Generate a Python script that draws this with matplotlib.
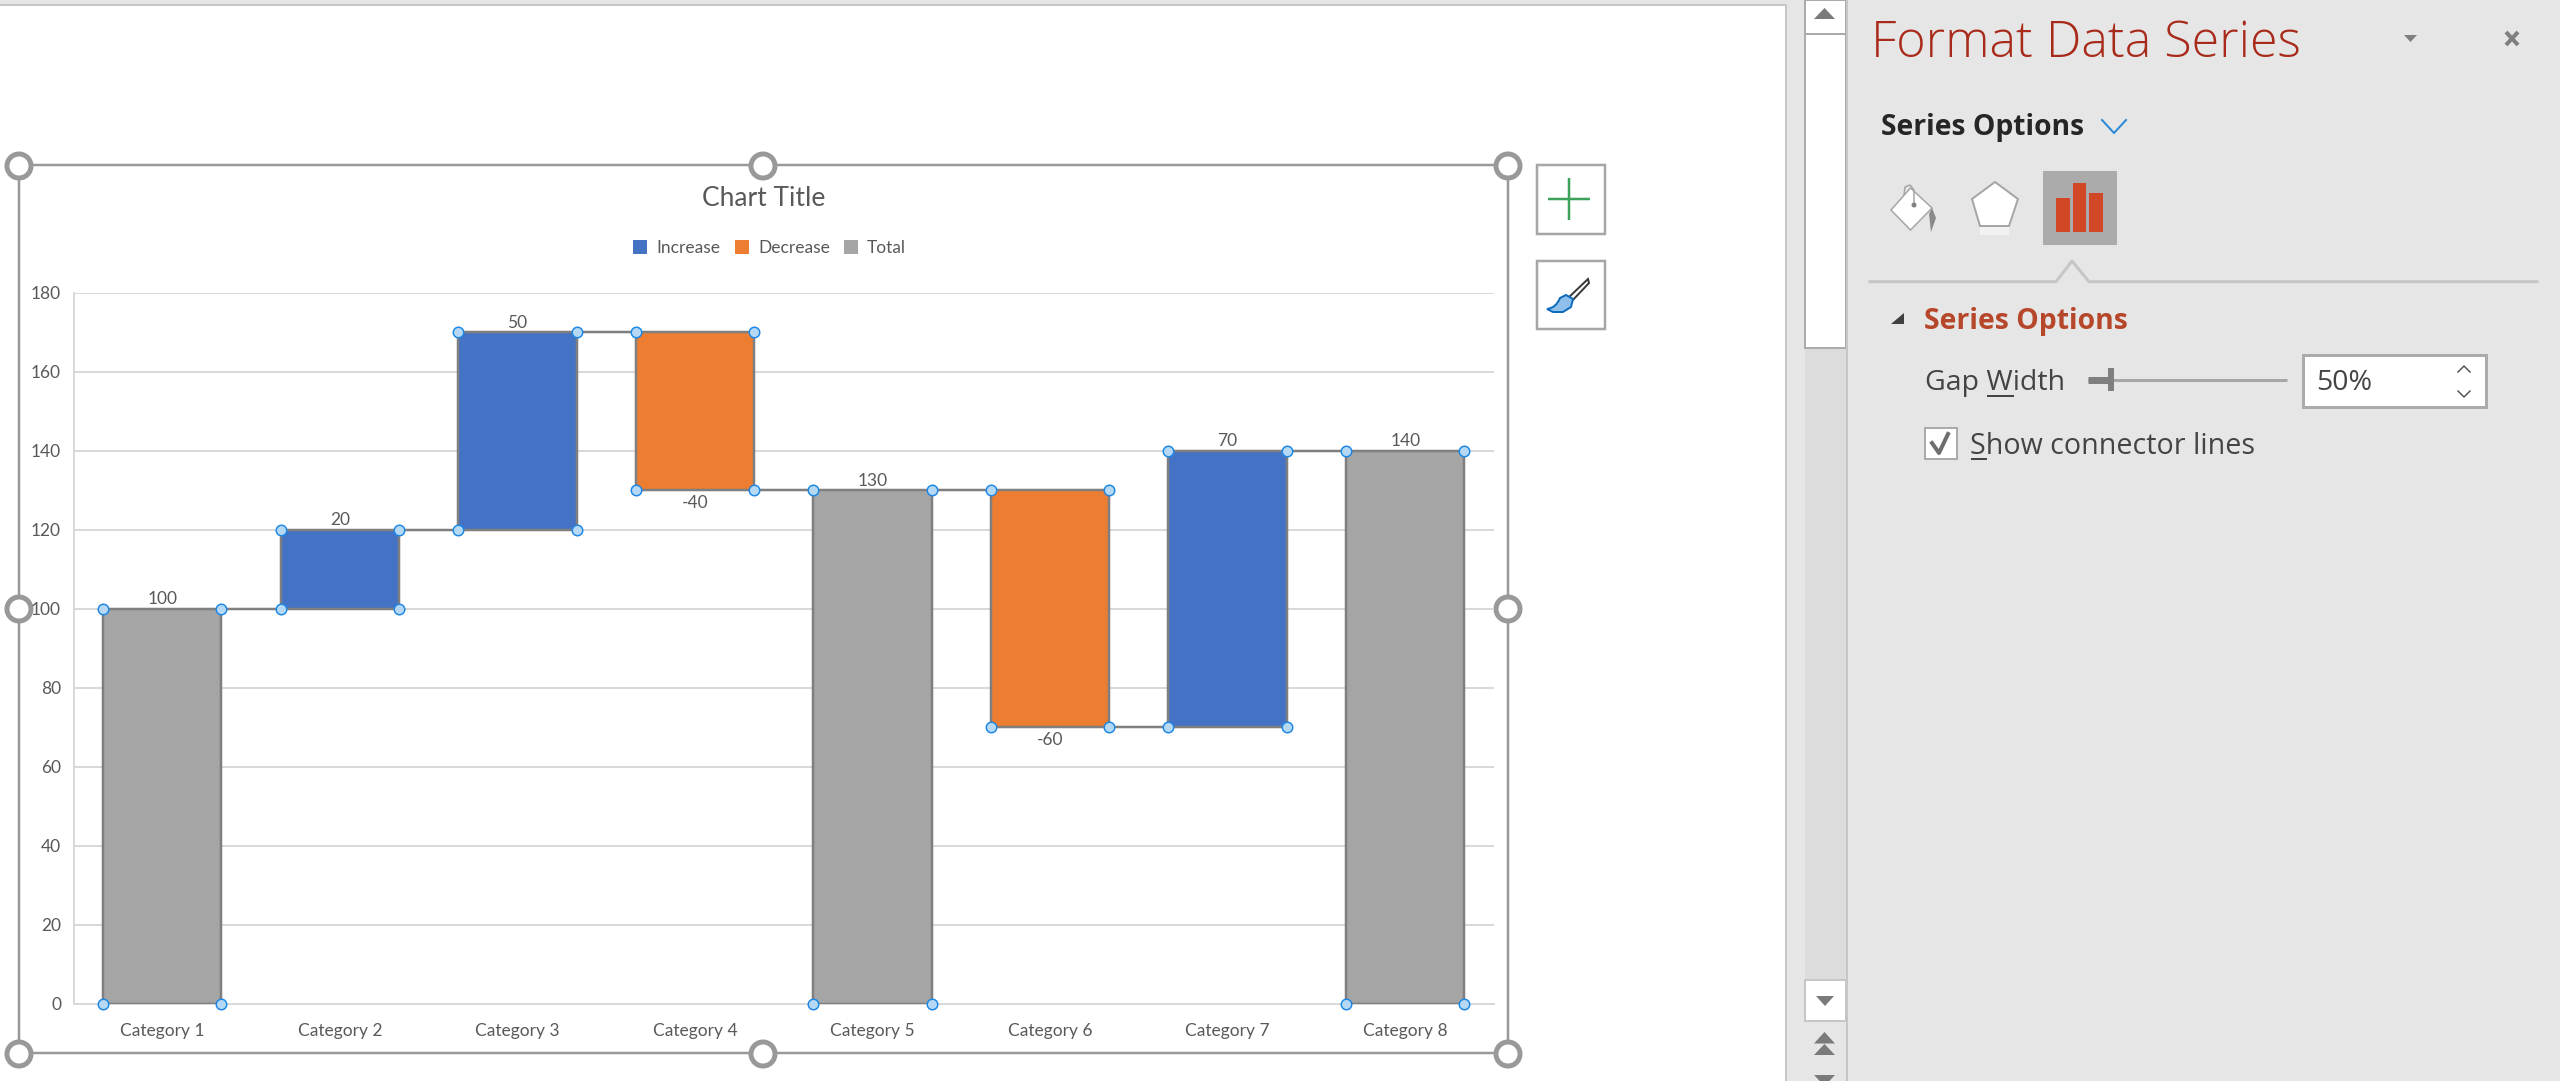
import numpy as np
import matplotlib
matplotlib.use('Agg')
import matplotlib.pyplot as plt
from matplotlib.patches import Rectangle, Circle, Polygon, PathPatch
from matplotlib.path import Path

categories = ['Category 1', 'Category 2', 'Category 3', 'Category 4',
              'Category 5', 'Category 6', 'Category 7', 'Category 8']
values = [100, 20, 50, -40, 130, -60, 70, 140]
is_total = [True, False, False, False, True, False, False, True]
y_ticks = [0, 20, 40, 60, 80, 100, 120, 140, 160, 180]
legend_names = ['Increase', 'Decrease', 'Total']

BLUE = '#4472c4'
ORANGE = '#ed7d31'
GRAY = '#a5a5a5'
EDGE = '#7f7f7f'
TEXT = '#595959'
PANEL = '#e6e6e6'
RED = '#b7472a'

W, H = 2560, 1081
PX = 72 / 100  # one pixel in points at dpi 100
CHART_FONT = 'Lato'
UI_FONT = 'Open Sans'

fig = plt.figure(figsize=(W / 100, H / 100), dpi=100, facecolor='white')

# pixel-space layer for the PowerPoint window around the chart
ui = fig.add_axes([0, 0, 1, 1], zorder=0)
ui.set_xlim(0, W)
ui.set_ylim(H, 0)
ui.axis('off')


def rect(x0, y0, x1, y1, fc='none', ec='none', lw=0, z=1):
    ui.add_patch(Rectangle((x0, y0), x1 - x0, y1 - y0, fc=fc, ec=ec, lw=lw * PX, zorder=z))


def line(xs, ys, color, lw, z=2):
    ui.plot(xs, ys, color=color, lw=lw * PX, zorder=z, solid_capstyle='butt')


def tri(points, color='#7a7a7a', z=3):
    ui.add_patch(Polygon(points, closed=True, fc=color, ec='none', zorder=z))


def label(x, y, s, size, color='#444444', weight='normal', ha='left'):
    ui.text(x, y, s, fontsize=size, color=color, fontweight=weight, ha=ha, va='center',
            family=UI_FONT, zorder=5)


# backgrounds
rect(0, 0, W, 4.5, fc=PANEL, z=0)
rect(1786, 0, W, H, fc=PANEL, z=0)
line([0, 1786, 1786], [4.5, 4.5, H], '#c6c6c6', 2)

# scrollbar
rect(1805, 0, 1846, H, fc=PANEL, z=1)
rect(1805, 0, 1846, 980, fc='#dcdcdc', z=1)
rect(1805, 0, 1845.5, 33.5, fc='white', ec='#ababab', lw=2, z=2)
rect(1805, 33.5, 1845.5, 348, fc='white', ec='#ababab', lw=2, z=2)
rect(1805, 980, 1845.5, 1020.5, fc='white', ec='#c6c6c6', lw=2, z=2)
line([1847, 1847], [0, H], '#c6c6c6', 2)
tri([(1814, 19), (1835, 19), (1824.5, 8)])
tri([(1816, 996), (1834, 996), (1825, 1006)])
tri([(1814, 1043.5), (1835, 1043.5), (1824.5, 1032)])
tri([(1814, 1055), (1835, 1055), (1824.5, 1044)])
tri([(1814, 1075), (1835, 1075), (1824.5, 1086)])

# chart selection frame and handles
fx0, fy0, fx1, fy1 = 19, 165, 1508, 1053
rect(fx0, fy0, fx1, fy1, ec='#999999', lw=2.5, z=1)
fxm, fym = (fx0 + fx1) / 2 - 0.5, (fy0 + fy1) / 2
for hx in (fx0, fxm, fx1):
    for hy in (fy0 + 1, fym, fy1 + 1):
        if hx == fxm and hy == fym:
            continue
        ui.add_patch(Circle((hx, hy), 12, fc='white', ec='#999999', lw=5 * PX, zorder=2))

# side buttons
rect(1537, 165, 1605, 234, fc='white', ec='#a6a6a6', lw=2.5)
line([1548, 1590], [198.7, 198.7], '#3da35a', 2.5)
line([1568.7, 1568.7], [178, 220], '#3da35a', 2.5)
rect(1537, 261, 1605, 329, fc='white', ec='#a6a6a6', lw=2.5)
ui.add_patch(Polygon([(1588, 279), (1567, 299), (1571, 302), (1589, 283)], closed=True,
                     fc='white', ec='#3b3b3b', lw=2 * PX, zorder=3))
brush = Path([(1547, 309), (1556, 308), (1560, 298), (1566, 295), (1573, 299), (1571, 307),
              (1563, 312), (1553, 312), (1547, 309)],
             [Path.MOVETO, Path.CURVE3, Path.CURVE3, Path.LINETO, Path.LINETO, Path.LINETO,
              Path.LINETO, Path.LINETO, Path.CLOSEPOLY])
ui.add_patch(PathPatch(brush, fc='#8fc0ec', ec='#0f6cbd', lw=2 * PX, zorder=4))

# task pane header
label(1871, 44, 'Format Data Series', 36.2, color='#a82a1a', weight='light')
tri([(2404, 35), (2417, 35), (2410.5, 42)], color='#7f7f7f')
line([2506, 2518], [32, 45], '#7f7f7f', 4)
line([2518, 2506], [32, 45], '#7f7f7f', 4)
label(1881, 128, 'Series Options', 20.3, color='#262626', weight='bold')
ui.plot([2102, 2114, 2126], [120, 133, 120], color='#2b88d8', lw=2 * PX, zorder=3)

# tab icons
ui.add_patch(Polygon([(1891, 210), (1910.5, 188), (1932, 208), (1910.5, 230)], closed=True,
                     fc='white', ec='#a6a6a6', lw=1.5 * PX, zorder=3))
ui.plot([1904, 1905, 1910, 1914, 1914], [195, 187, 185, 190, 205], color='#a6a6a6', lw=1.5 * PX, zorder=3)
ui.add_patch(Circle((1914, 205), 2.5, fc='#808080', zorder=4))
tri([(1932, 208), (1936, 218), (1931, 232), (1929, 214)], color='#8a8a8a')
ui.add_patch(Polygon([(1995, 182), (2018, 199), (2009, 226), (1980, 226), (1972, 199)], closed=True,
                     fc='white', ec='#a6a6a6', lw=2 * PX, zorder=3))
rect(1980, 227, 2009, 235, fc='#f2f2f2', z=3)
rect(2043, 171, 2117, 245, fc='#ababab', z=2)
rect(2056, 198, 2069.5, 232, fc='#d24726', z=3)
rect(2072.5, 183, 2086, 232, fc='#d24726', z=3)
rect(2089, 193, 2102.5, 232, fc='#d24726', z=3)

# tab separator with notch
ui.plot([1870, 2056, 2072, 2089, 2537], [281.7, 281.7, 261, 281.7, 281.7], color='#c6c6c6', lw=3 * PX, zorder=2)

# series options section
tri([(1904, 313), (1904, 324), (1891, 324)], color='#404040')
label(1924, 322, 'Series Options', 20.4, color=RED, weight='bold')
label(1925, 383, 'Gap Width', 20.5, color='#444444')
line([1986.5, 2014], [396, 396], '#444444', 2)
line([2088, 2287], [380, 380], '#a6a6a6', 3)
line([2088, 2110], [380, 380], '#7f7f7f', 7)
line([2111, 2111], [368, 391], '#7f7f7f', 6)
rect(2303, 355, 2486, 406.5, fc='white', ec='#ababab', lw=3, z=2)
label(2316, 383, '50%', 20.5, color='#444444')
ui.plot([2458, 2464, 2470], [372, 366, 372], color='#555555', lw=1.5 * PX, zorder=3)
ui.plot([2458, 2464, 2470], [391, 397, 391], color='#555555', lw=1.5 * PX, zorder=3)
rect(1925, 428, 1956.5, 459, fc='white', ec='#ababab', lw=2, z=2)
ui.plot([1932, 1939, 1948], [443, 453, 434], color='#6e6e6e', lw=4 * PX, zorder=3)
label(1970, 447, 'Show connector lines', 20.6, color='#444444')
line([1970.5, 1986.5], [459, 459], '#444444', 2)

# chart title and legend
ui.text(764, 198, 'Chart Title', fontsize=19, color=TEXT, ha='center', va='center',
        family=CHART_FONT, zorder=5)
legend_colors = [BLUE, ORANGE, GRAY]
legend_swatch = [633, 735, 844]
for name, col, sx in zip(legend_names, legend_colors, legend_swatch):
    rect(sx, 240, sx + 14, 254, fc=col, z=3)
    ui.text(sx + 23, 248, name, fontsize=12.5, color=TEXT, va='center', family=CHART_FONT, zorder=5)

# waterfall plot
ax = fig.add_axes([73.5 / W, 1 - 1004 / H, (1494 - 73.5) / W, (1004 - 292.5) / H], zorder=1)
ax.patch.set_alpha(0)
ax.set_xlim(-0.5, len(categories) - 0.5)
ax.set_ylim(y_ticks[0], y_ticks[-1])

x = np.arange(len(categories))
vals = np.array(values, dtype=float)
ends = []
level = 0
for v, tot in zip(values, is_total):
    level = v if tot else level + v
    ends.append(level)
ends = np.array(ends, dtype=float)
bottoms = np.where(is_total, 0, ends - vals)
colors = [GRAY if t else (BLUE if v >= 0 else ORANGE) for v, t in zip(values, is_total)]
bar_w = 2 / 3

ax.bar(x, ends - bottoms, bottom=bottoms, width=bar_w, color=colors, edgecolor=EDGE,
       linewidth=2.5 * PX, zorder=3)

for i in range(len(x) - 1):
    ax.plot([x[i] + bar_w / 2, x[i + 1] - bar_w / 2], [ends[i], ends[i]], color=EDGE,
            lw=2.5 * PX, zorder=2, solid_capstyle='butt')

# point handles on each bar corner
tops = np.maximum(bottoms, ends)
lows = np.minimum(bottoms, ends)
for ys in (tops, lows):
    for side in (-1, 1):
        ax.plot(x + side * bar_w / 2, ys, ls='none', marker='o', ms=10.5 * PX, mfc='#b5d8f5',
                mec='#1e88e5', mew=1.5 * PX, zorder=4, clip_on=False)

# data labels sit above the bar, or under it for decreases
for xi, v, top, low in zip(x, values, tops, lows):
    if v < 0:
        ax.annotate(str(v), (xi, low), xytext=(0, -9), textcoords='offset points', ha='center',
                    va='center', fontsize=12.5, color=TEXT, family=CHART_FONT, zorder=5)
    else:
        ax.annotate(str(v), (xi, top), xytext=(0, 6.8), textcoords='offset points', ha='center',
                    va='center', fontsize=12.5, color=TEXT, family=CHART_FONT, zorder=5)

ax.set_xticks(x)
ax.set_xticklabels(categories)
ax.set_yticks(y_ticks)
ax.grid(True, axis='y', color='#d9d9d9', lw=2 * PX, zorder=0)
ax.set_axisbelow(True)
ax.tick_params(axis='both', length=0, labelsize=12.5, labelcolor=TEXT)
ax.tick_params(axis='x', pad=14)
ax.tick_params(axis='y', pad=9)
for t in ax.get_xticklabels() + ax.get_yticklabels():
    t.set_family(CHART_FONT)
for side in ('top', 'right'):
    ax.spines[side].set_visible(False)
for side in ('left', 'bottom'):
    ax.spines[side].set_color('#d9d9d9')
    ax.spines[side].set_linewidth(2 * PX)

fig.savefig('out.png', dpi=100)
